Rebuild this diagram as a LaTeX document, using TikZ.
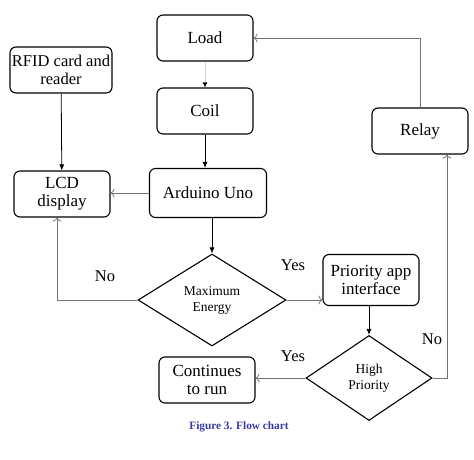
\documentclass[tikz,border=0pt]{standalone}
\usepackage{fontspec}
\setmainfont{Liberation Serif}
\usetikzlibrary{shapes.geometric,arrows.meta}
\definecolor{capblue}{RGB}{55,60,160}
\tikzset{
  box/.style={draw,line width=1.1pt,rounded corners=6pt,minimum width=96pt,minimum height=46pt,
    align=center,inner sep=2pt,font=\fontsize{17}{18}\selectfont},
  choice/.style={draw,line width=1.1pt,diamond,inner sep=0pt,align=center,
    font=\fontsize{13.5}{16}\selectfont},
  solidarr/.style={draw=black,line width=0.8pt,-{Latex[length=6pt,width=5pt]}},
  openarr/.style={draw=black!55,line width=0.8pt,-{To[length=4pt,width=9pt]}},
  answer/.style={font=\fontsize{16.5}{18}\selectfont}
}
\begin{document}
\begin{tikzpicture}[x=1pt,y=-1pt]
  \useasboundingbox (0,0) rectangle (474,460);
  \node[box] (load) at (205,38) {Load};
  \node[box,font=\fontsize{16.5}{18}\selectfont] (rfid) at (61,70) {RFID card and\\reader};
  \node[box] (coil) at (205,111) {Coil};
  \node[box] (relay) at (420,131) {Relay};
  \node[box] (lcd) at (62,194) {LCD\\display};
  \node[box,minimum width=117pt,minimum height=49pt] (ard) at (208,193) {Arduino Uno};
  \node[choice,minimum width=148pt,minimum height=92pt] (maxe) at (212,300) {Maximum\\Energy};
  \node[box,minimum height=51pt] (prio) at (371,280) {Priority app\\interface};
  \node[choice,minimum width=126pt,minimum height=85pt] (high) at (369,378) {High\\Priority};
  \node[box] (cont) at (207,380) {Continues\\to run};
  % labels
  \node[answer] (nomax) at (105,276) {No};
  \node[answer] (yesmax) at (293,265) {Yes};
  \node[answer] (yeshigh) at (293,356) {Yes};
  \node[answer] (nohigh) at (432,339) {No};
  \node[font=\bfseries\fontsize{11.3}{13}\selectfont,text=capblue] (cap) at (239,427) {Figure 3. Flow chart};
  % connectors
  \path[draw=black!15,line width=0.8pt,-{Latex[length=5pt,width=5pt,color=black]}] (load) -- (coil);
  \path[solidarr] (coil.south) -- (coil.south |- ard.north);
  \path[solidarr] (rfid) -- (lcd);
  \path[solidarr] (maxe.north |- ard.south) -- (maxe);
  \path[solidarr] (prio.south -| high.north) -- (high);
  \path[openarr] (relay.north) |- (load.east);
  \path[openarr] (ard.west) -- (ard.west -| lcd.east);
  \path[openarr] (maxe.west) -| ([xshift=-5pt]lcd.south);
  \path[openarr] (maxe.east) -- (maxe.east -| prio.west);
  \path[openarr] (high.west) -- (high.west -| cont.east);
  \path[openarr] (high.east) -| ([xshift=27pt]relay.south);
\end{tikzpicture}
\end{document}
